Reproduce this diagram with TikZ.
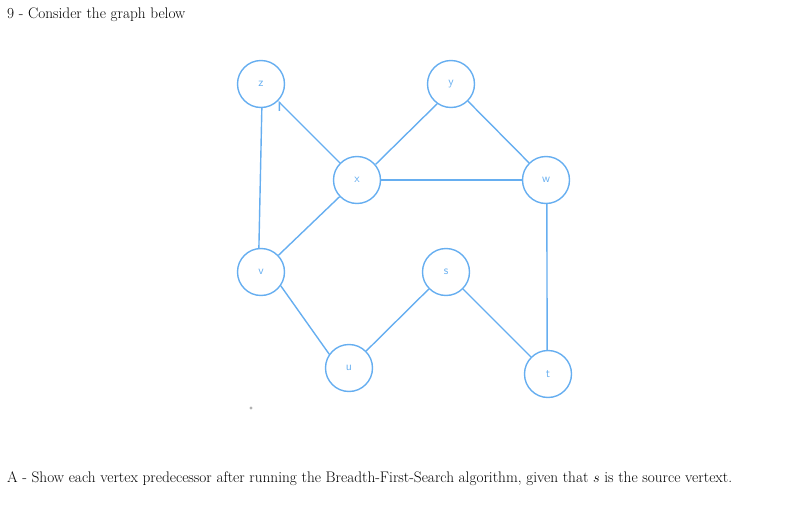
\documentclass[tikz,border=0pt]{standalone}
\usetikzlibrary{arrows.meta}
\definecolor{gblue}{RGB}{102,174,240}
\begin{document}
\begin{tikzpicture}[x=1pt,y=-1pt,
  vert/.style={circle,draw=gblue,line width=1.4pt,minimum size=47pt,inner sep=0pt,text=gblue,font=\sffamily\fontsize{12}{14}\selectfont},
  edge/.style={draw=gblue,line width=1.4pt},
  lbl/.style={anchor=west,inner sep=0pt,font=\fontsize{15.3}{17}\selectfont}]
\useasboundingbox (0,0) rectangle (812,506);
\node[vert] (z) at (261,84) {z};
\node[vert] (y) at (451,84) {y};
\node[vert] (x) at (357,180) {x};
\node[vert] (w) at (546,180) {w};
\node[vert] (v) at (261,272) {v};
\node[vert] (s) at (446,272) {s};
\node[vert] (u) at (349,368) {u};
\node[vert] (t) at (548,374) {t};
\draw[edge,-{Straight Barb[left,length=6pt]}] (x) -- (z);
\draw[edge] (z.272) -- (v.95);
\draw[edge] (x.40) -- (y.235);
\draw[edge] (y) -- (w);
\draw[edge] (x) -- (w);
\draw[edge] (x) -- (v);
\draw[edge] (v.325) -- (u.145);
\draw[edge] (u) -- (s);
\draw[edge] (s) -- (t);
\draw[edge] (w.272) -- (t.92);
\fill[gray!60] (251,408) circle (1.6);
\node[lbl] (title) at (7,15) {9 - Consider the graph below};
\node[lbl] (q) at (7,479) {A - Show each vertex predecessor after running the Breadth-First-Search algorithm, given that $s$ is the source vertext.};
\end{tikzpicture}
\end{document}
